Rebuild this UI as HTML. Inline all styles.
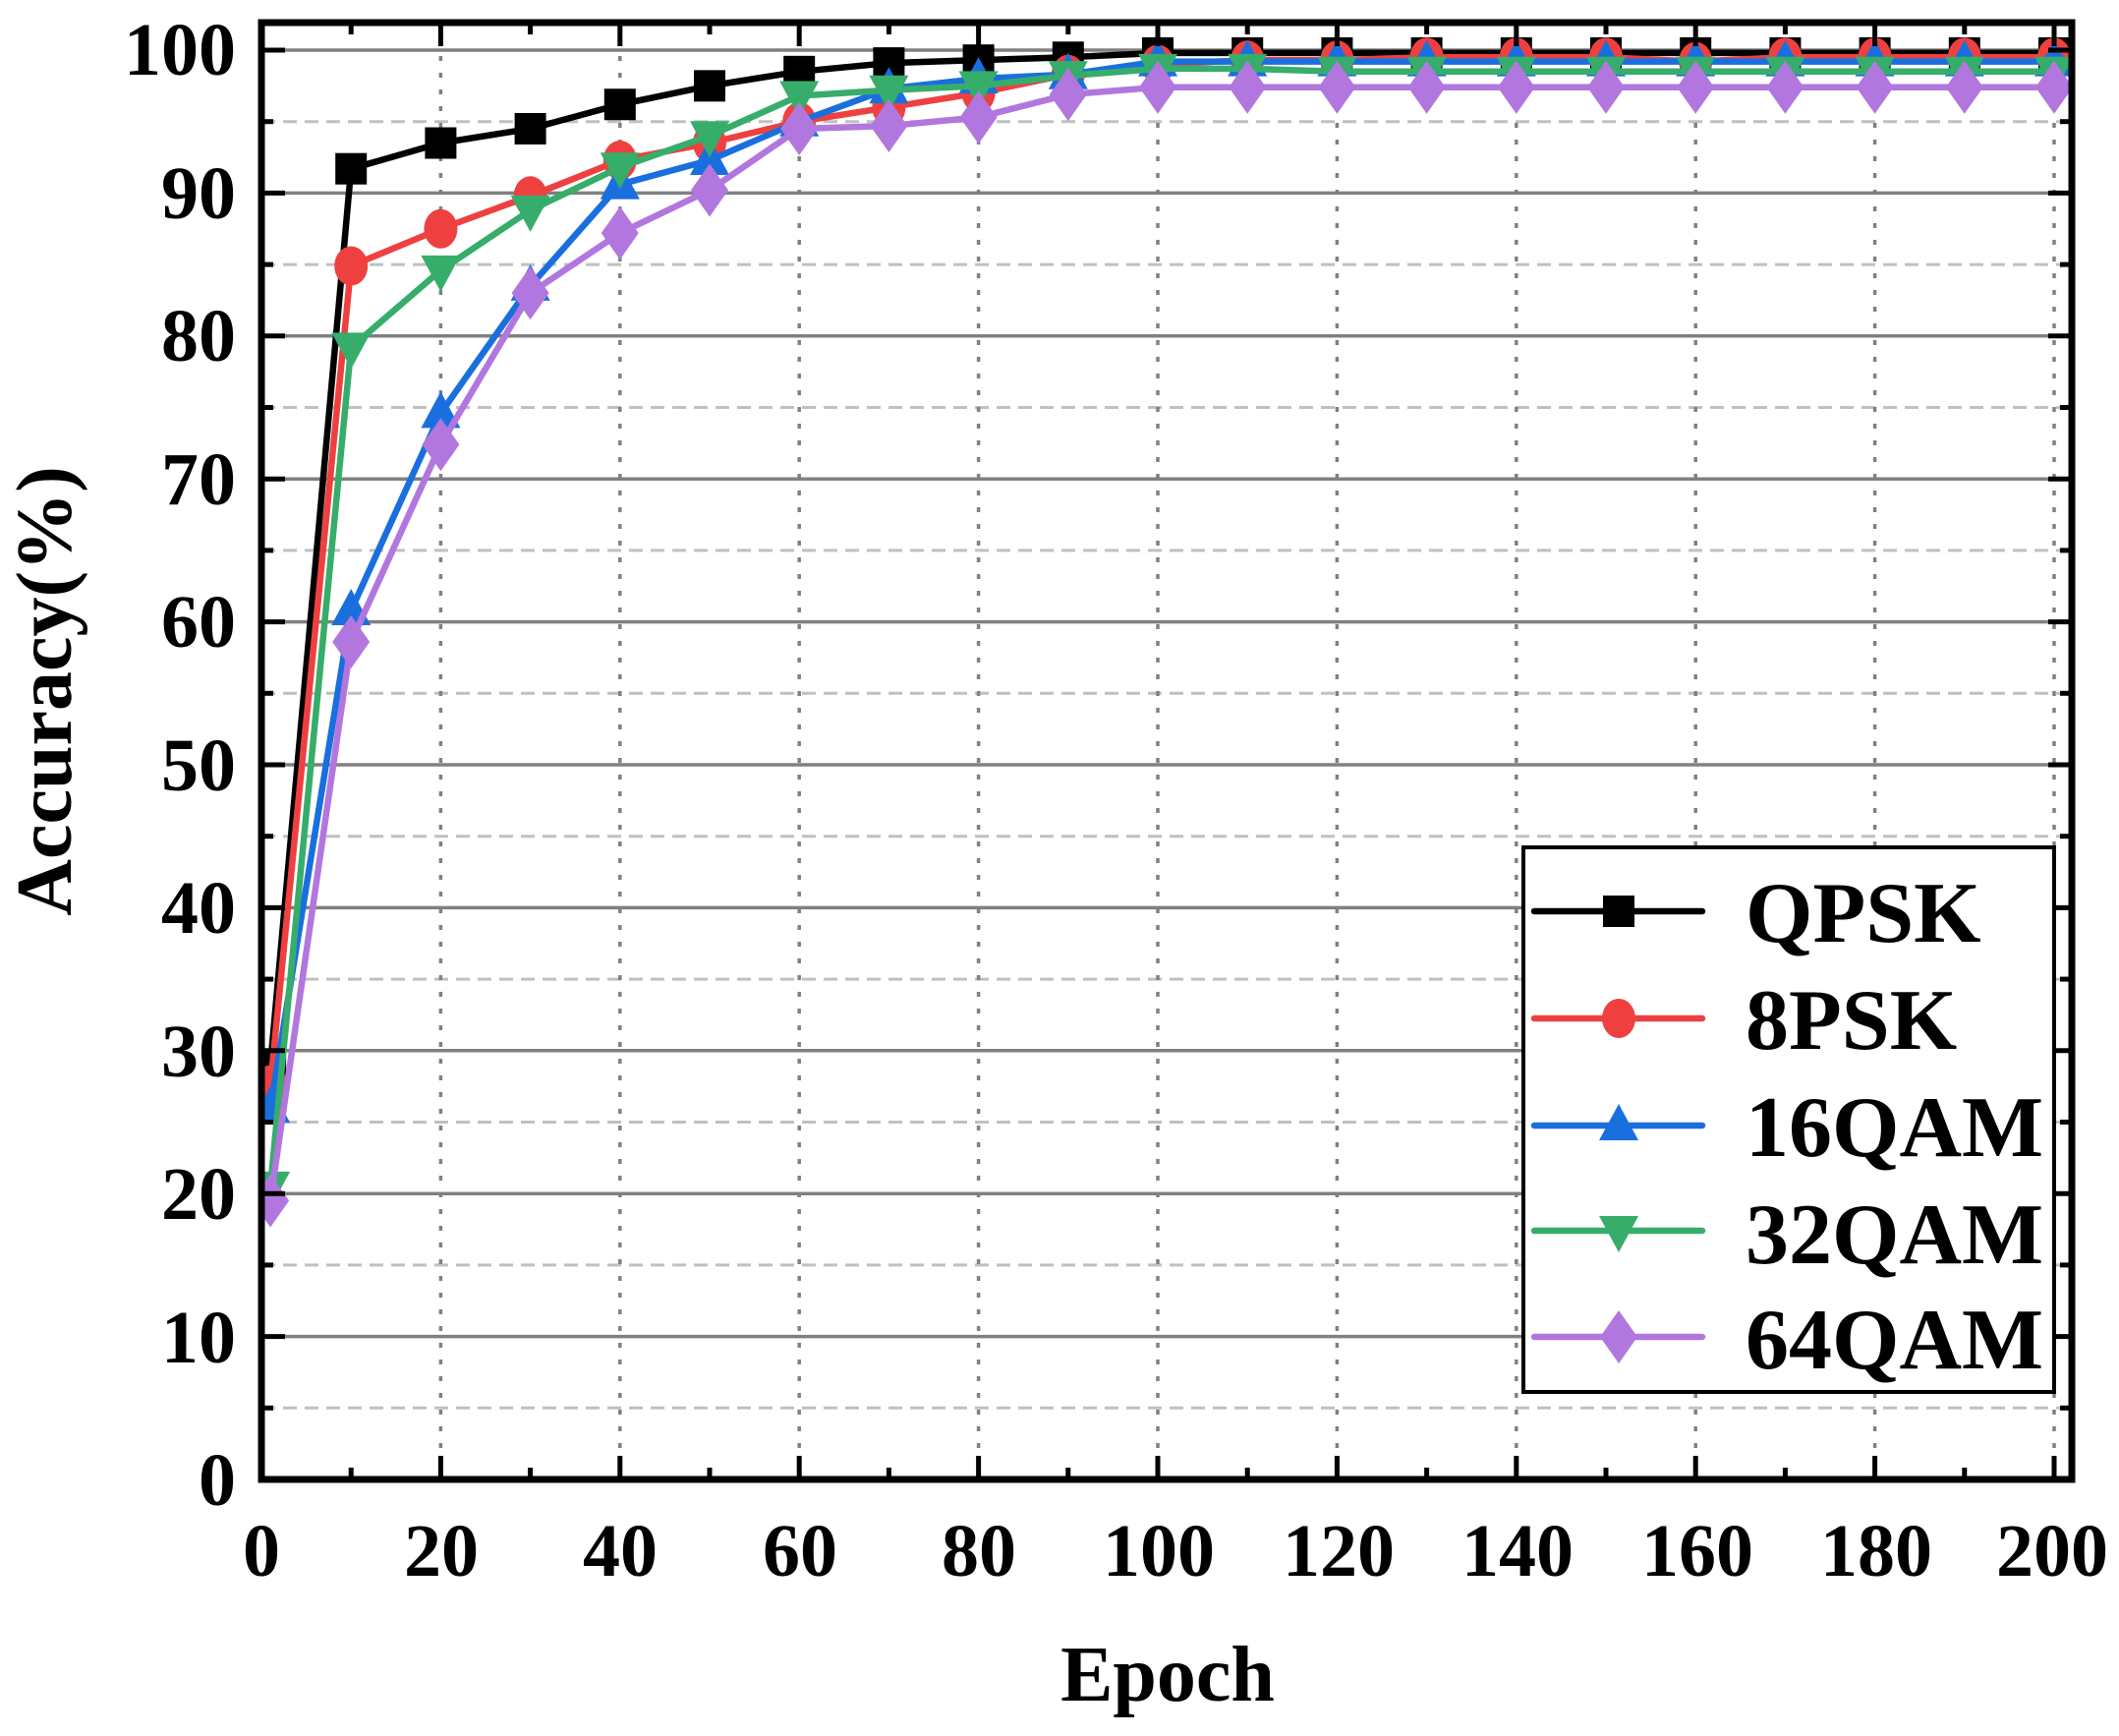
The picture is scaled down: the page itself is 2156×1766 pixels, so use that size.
<!DOCTYPE html>
<html><head><meta charset="utf-8"><style>
html,body{margin:0;padding:0;background:#fff;}
svg{display:block;font-family:"Liberation Serif",serif;font-weight:bold;}
</style></head><body>
<svg id="s" width="2156" height="1766" viewBox="0 0 2156 1766" xmlns="http://www.w3.org/2000/svg">
<rect width="2156" height="1766" fill="#fff"/>
<g id="grid"></g>
<g id="series"></g>
<g id="axes"></g>
<g font-size="76" text-anchor="end">
<text x="240" y="1531">0</text><text x="240" y="1386">10</text><text x="240" y="1240">20</text><text x="240" y="1095">30</text><text x="240" y="949">40</text><text x="240" y="804">50</text><text x="240" y="658">60</text><text x="240" y="513">70</text><text x="240" y="367">80</text><text x="240" y="222">90</text><text x="240" y="76">100</text>
</g>
<g font-size="76" text-anchor="middle">
<text x="266" y="1603">0</text><text x="449" y="1603">20</text><text x="631" y="1603">40</text><text x="814" y="1603">60</text><text x="996" y="1603">80</text><text x="1179" y="1603">100</text><text x="1362" y="1603">120</text><text x="1544" y="1603">140</text><text x="1727" y="1603">160</text><text x="1909" y="1603">180</text><text x="2088" y="1603">200</text>
</g>
<text x="1188" y="1730" font-size="80" text-anchor="middle">Epoch</text>
<text transform="translate(72,703) rotate(-90)" font-size="80" text-anchor="middle">Accuracy(%)</text>
<rect x="1550" y="862" width="540" height="554" fill="#fff" stroke="#000" stroke-width="4"/>
<g id="leg"></g>
<g font-size="88">
<text x="1776" y="958">QPSK</text>
<text x="1776" y="1067">8PSK</text>
<text x="1776" y="1176">16QAM</text>
<text x="1776" y="1285">32QAM</text>
<text x="1776" y="1392">64QAM</text>
</g>
</svg>
<script>
const NS="http://www.w3.org/2000/svg";
const X0=266,XS=9.12,Y0=1505,YS=14.54,L=266,R=2108,T=23,B=1505;
const xp=e=>X0+e*XS, yp=v=>Y0-v*YS;
function el(p,tag,a){const e=document.createElementNS(NS,tag);for(const k in a)e.setAttribute(k,a[k]);p.appendChild(e);return e;}
const g=document.getElementById('grid');
for(let v=5;v<100;v+=10)el(g,'line',{x1:L,x2:R,y1:yp(v),y2:yp(v),stroke:'#c0c0c0','stroke-width':3,'stroke-dasharray':'14 8'});
for(let e=20;e<=200;e+=20)el(g,'line',{x1:xp(e),x2:xp(e),y1:T,y2:B,stroke:'#808080','stroke-width':3.5,'stroke-dasharray':'5 12'});
for(let v=10;v<=100;v+=10)el(g,'line',{x1:L,x2:R,y1:yp(v),y2:yp(v),stroke:'#808080','stroke-width':3.5});
const ep=[1,10,20,30,40,50,60,70,80,90,100,110,120,130,140,150,160,170,180,190,200];
const fill=(a,v)=>{while(a.length<21)a.push(v);return a;};
const data=[
['#000','sq',fill([29,91.7,93.5,94.5,96.2,97.5,98.5,99.1,99.3,99.5,99.8],99.8)],
['#ef4040','ci',[27.6,84.9,87.5,89.8,92.3,93.5,95,96,97,98.3,99,99.3,99.3,99.5,99.5,99.5,99.2,99.5,99.5,99.5,99.5]],
['#1a6fdf','up',fill([26,60.8,74.6,83.5,90.6,92.3,95,97.3,98,98.3,99.2],99.2)],
['#37ad6b','dn',fill([20.5,79.2,84.6,88.8,91.8,94,96.8,97.2,97.5,98.2,98.7,98.7],98.5)],
['#b177de','di',fill([19.5,58.6,72.4,83,87.2,90.2,94.5,94.7,95.3,96.9,97.4],97.4)]];
function mk(p,t,x,y,c){
 if(t=='sq')el(p,'rect',{x:x-16,y:y-16,width:32,height:32,fill:c});
 else if(t=='ci')el(p,'ellipse',{cx:x,cy:y,rx:17,ry:20,fill:c});
 else if(t=='up')el(p,'polygon',{points:`${x},${y-22} ${x+20},${y+15} ${x-20},${y+15}`,fill:c});
 else if(t=='dn')el(p,'polygon',{points:`${x},${y+22} ${x+20},${y-15} ${x-20},${y-15}`,fill:c});
 else el(p,'polygon',{points:`${x},${y-27} ${x+19},${y} ${x},${y+27} ${x-19},${y}`,fill:c});
}
const s=document.getElementById('series');
const cp=el(document.getElementById('s'),'clipPath',{id:'cp'});el(cp,'rect',{x:L,y:T,width:R-L,height:B-T});
s.setAttribute('clip-path','url(#cp)');
data.forEach(([c,t,v])=>{
 el(s,'polyline',{points:ep.map((e,i)=>xp(e)+','+yp(v[i])).join(' '),fill:'none',stroke:c,'stroke-width':6.5,'stroke-linejoin':'round'});
 ep.forEach((e,i)=>mk(s,t,xp(e),yp(v[i]),c));
});
const lg=document.getElementById('leg');
[927,1036,1145,1252,1360].forEach((y,i)=>{const [c,t]=data[i];
 el(lg,'line',{x1:1561,x2:1732,y1:y,y2:y,stroke:c,'stroke-width':6.5,'stroke-linecap':'round'});mk(lg,t,1647,y,c);});
const a=document.getElementById('axes');
for(let e=0;e<=200;e+=10){const l=e%20?12:24;
 el(a,'line',{x1:xp(e),x2:xp(e),y1:B,y2:B-l,stroke:'#000','stroke-width':5});
 el(a,'line',{x1:xp(e),x2:xp(e),y1:T,y2:T+l,stroke:'#000','stroke-width':5});}
for(let v=0;v<=100;v+=5){const l=v%10?12:24;
 el(a,'line',{x1:L,x2:L+l,y1:yp(v),y2:yp(v),stroke:'#000','stroke-width':5});
 el(a,'line',{x1:R,x2:R-l,y1:yp(v),y2:yp(v),stroke:'#000','stroke-width':5});}
el(a,'rect',{x:L,y:T,width:R-L,height:B-T,fill:'none',stroke:'#000','stroke-width':7});
</script>
</body></html>
